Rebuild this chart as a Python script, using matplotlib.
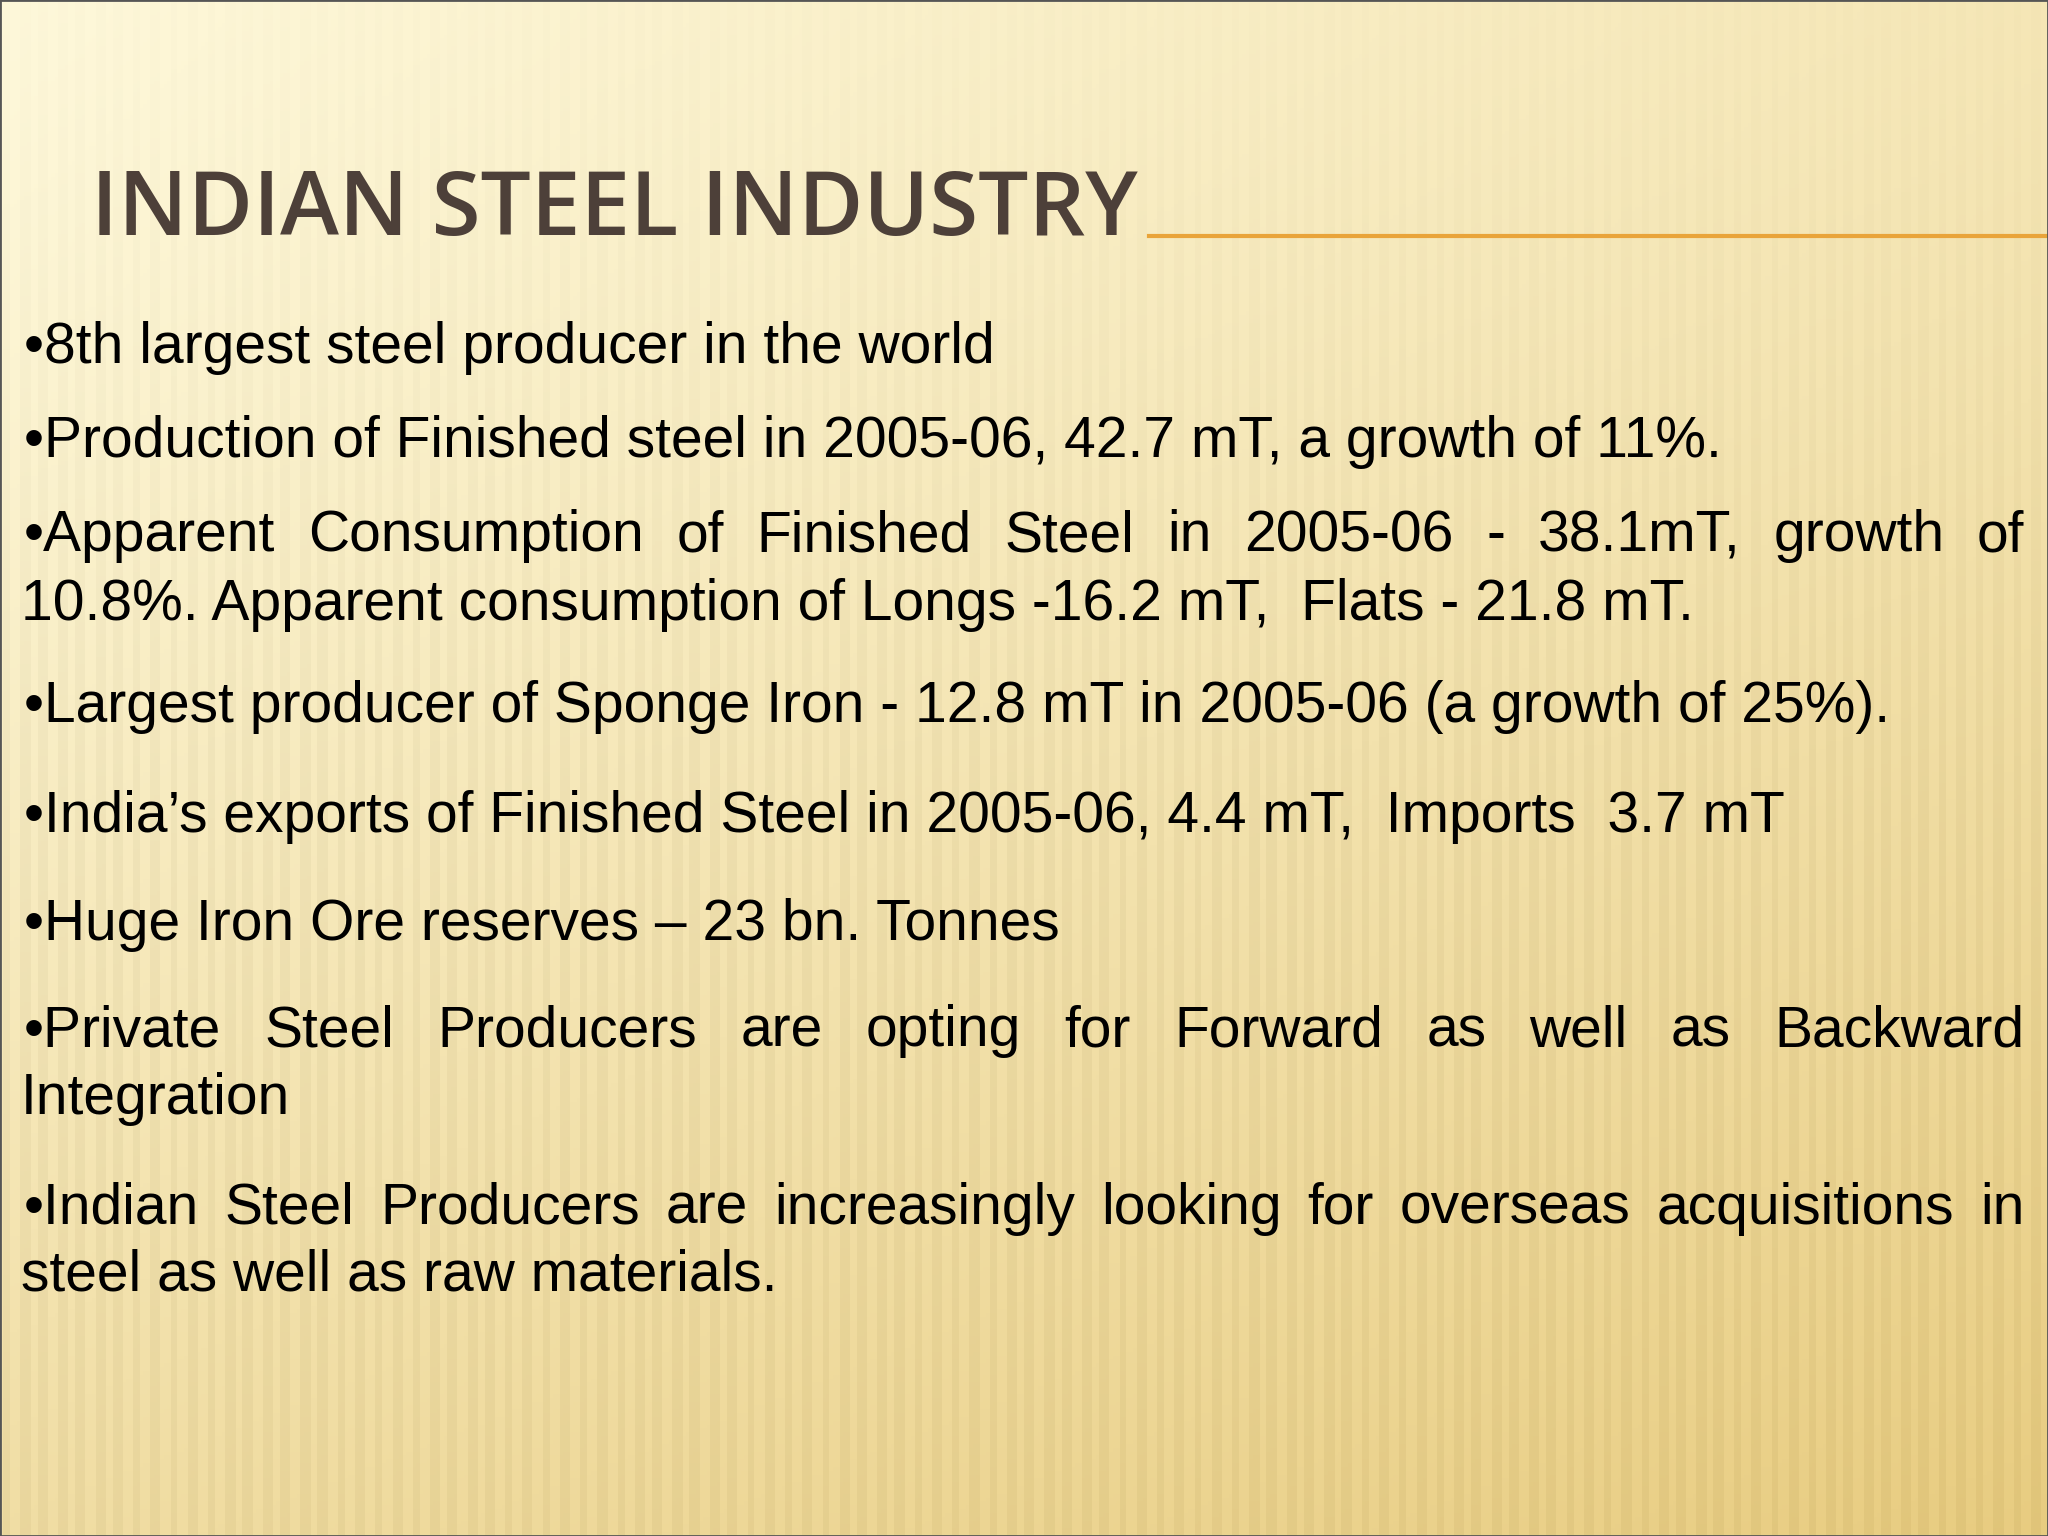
import numpy as np
import matplotlib
matplotlib.use("Agg")
import matplotlib.pyplot as plt

title = "INDIAN STEEL INDUSTRY"
lines = [
    "•8th largest steel producer in the world",
    "•Production of Finished steel in 2005-06, 42.7 mT, a growth of 11%.",
    "•Apparent Consumption of Finished Steel in 2005-06 - 38.1mT, growth of",
    "10.8%. Apparent consumption of Longs -16.2 mT,  Flats - 21.8 mT.",
    "•Largest producer of Sponge Iron - 12.8 mT in 2005-06 (a growth of 25%).",
    "•India’s exports of Finished Steel in 2005-06, 4.4 mT,  Imports  3.7 mT",
    "•Huge Iron Ore reserves – 23 bn. Tonnes",
    "•Private Steel Producers are opting for Forward as well as Backward",
    "Integration",
    "•Indian Steel Producers are increasingly looking for overseas acquisitions in",
    "steel as well as raw materials.",
]
baselines = [278, 350, 422, 475, 553, 637, 720, 801, 853, 937, 988]
justified = [False, False, True, False, False, False, False, True, False, True, False]
xstart = [18, 18, 18, 16, 18, 18, 18, 18, 16, 18, 16]

W, H = 1568.0, 1176.0
fig = plt.figure(figsize=(20.48, 15.36), dpi=100)
ax = fig.add_axes([0, 0, 1, 1])
ax.set_xlim(0, W); ax.set_ylim(H, 0); ax.axis("off")

yy, xx = np.mgrid[0:400, 0:600]
t = np.clip(0.6 * (yy / 400) ** 1.3 + 0.4 * xx / 600, 0, 1)
top = np.array([254, 248, 218]) / 255
bot = np.array([232, 204, 128]) / 255
img = top[None, None, :] * (1 - t[..., None]) + bot[None, None, :] * t[..., None]
stripes = 0.03 * (np.sin(xx / 600 * 2 * np.pi * 110) > 0) * np.clip(yy / 400 * 1.5 + 0.2, 0, 1)
img = np.clip(img - stripes[..., None], 0, 1)
ax.imshow(img, extent=[0, W, H, 0], aspect="auto", zorder=0)

ax.text(70, 180, title, fontsize=64, color="#4d4039", fontfamily="Open Sans",
        fontweight="semibold", va="baseline", zorder=3)
ax.plot([880, W], [181, 181], color="#e9a43a", lw=3, zorder=2)

fs = 41
fig.canvas.draw()
r = fig.canvas.get_renderer()
px_per_unit = fig.bbox.width / W
for s, yb, j, x0 in zip(lines, baselines, justified, xstart):
    if not j:
        ax.text(x0, yb, s, fontsize=fs, family="Liberation Sans", va="baseline", zorder=3)
        continue
    words = s.split()
    widths = []
    for w in words:
        tt = ax.text(0, 0, w, fontsize=fs, family="Liberation Sans")
        widths.append(tt.get_window_extent(r).width / px_per_unit)
        tt.remove()
    gap = (1550 - x0 - sum(widths)) / (len(words) - 1)
    x = x0
    for w, wd in zip(words, widths):
        ax.text(x, yb, w, fontsize=fs, family="Liberation Sans", va="baseline", zorder=3)
        x += wd + gap

ax.add_patch(plt.Rectangle((0, 0), W, H, fill=False, ec="#555", lw=2, zorder=4))
fig.savefig("out.png", dpi=100)
